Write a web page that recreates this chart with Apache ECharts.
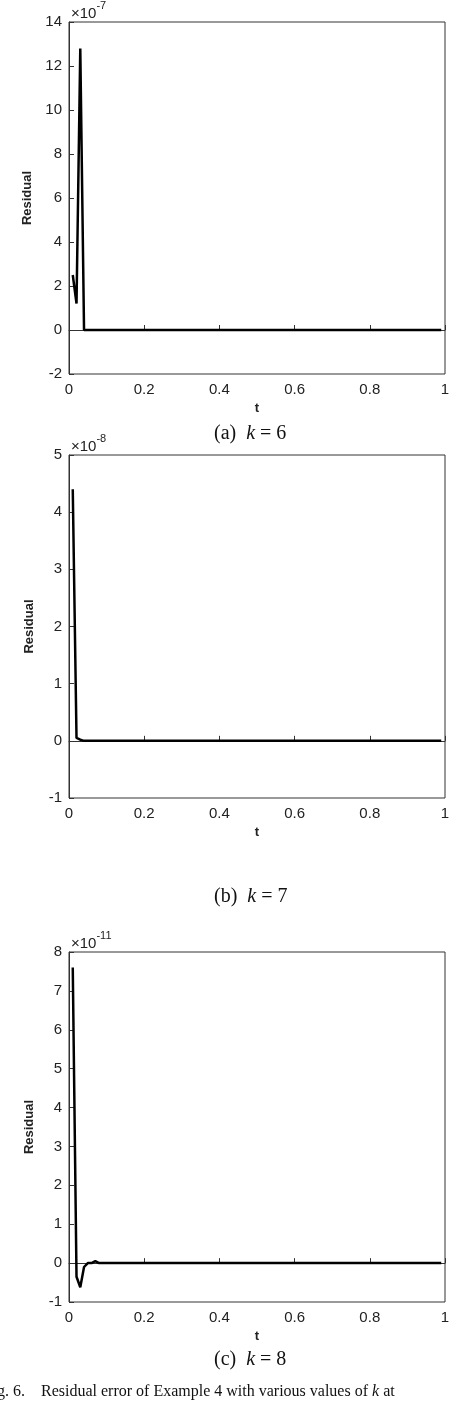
<!DOCTYPE html>
<html lang="en">
<head>
<meta charset="UTF-8">
<title>Residual</title>
<script src="https://cdn.jsdelivr.net/npm/echarts/dist/echarts.min.js"></script>
<style>
  body { margin: 0; background: #fff; }
  #chart { width: 474px; height: 1404px; }
</style>
</head>
<body>
<div id="chart"></div>
<script>
// residual values, in units of the exponent shown above each plot
var tA = [0.01, 0.02, 0.03, 0.04, 0.99];
var rA = [2.5, 1.2, 12.8, 0, 0];          // x1e-7
var tB = [0.01, 0.02, 0.03, 0.04, 0.99];
var rB = [4.4, 0.05, 0.02, 0, 0];         // x1e-8
var tC = [0.01, 0.02, 0.03, 0.04, 0.05, 0.06, 0.07, 0.08, 0.99];
var rC = [7.6, -0.35, -0.62, -0.1, 0, 0, 0.05, 0, 0]; // x1e-11
var exps = ['-7', '-8', '-11'];
var captions = ['(a)', '(b)', '(c)'];
var kVals = ['6', '7', '8'];

var chart = echarts.init(document.getElementById('chart'));
var font = 'Liberation Sans, Arial, sans-serif';
var grids = [
  { left: 69, width: 376, top: 22, height: 352 },
  { left: 69, width: 376, top: 455, height: 343 },
  { left: 69, width: 376, top: 952, height: 350 }
];
var yRanges = [[-2, 14, 2], [-1, 5, 1], [-1, 8, 1]];
var sets = [[tA, rA], [tB, rB], [tC, rC]];

function xAx(i) {
  return {
    type: 'value', gridIndex: i, min: 0, max: 1, interval: 0.2,
    name: 't', nameLocation: 'middle', nameGap: 28,
    nameTextStyle: { fontFamily: font, fontSize: 13, fontWeight: 'bold', color: '#222' },
    axisLine: { lineStyle: { color: '#333' } },
    axisTick: { inside: true, length: 5, lineStyle: { color: '#333' } },
    axisLabel: { fontFamily: font, fontSize: 15, color: '#222', margin: 8,
      formatter: function (v) { return v === 1 ? '1' : String(+v.toFixed(1)); } },
    splitLine: { show: false }
  };
}
function yAx(i) {
  return {
    type: 'value', gridIndex: i, min: yRanges[i][0], max: yRanges[i][1], interval: yRanges[i][2],
    name: 'Residual', nameLocation: 'middle', nameGap: 33, nameRotate: 90,
    nameTextStyle: { fontFamily: font, fontSize: 13, fontWeight: 'bold', color: '#222' },
    axisLine: { lineStyle: { color: '#333' } },
    axisTick: { inside: true, length: 5, lineStyle: { color: '#333' } },
    axisLabel: { fontFamily: font, fontSize: 15, color: '#222', margin: 7 },
    splitLine: { show: false }
  };
}

var graphics = [];
grids.forEach(function (g, i) {
  graphics.push({
    type: 'rect', shape: { x: g.left, y: g.top, width: g.width, height: g.height },
    style: { fill: 'none', stroke: '#333', lineWidth: 1 }, z: 0
  });
  graphics.push({
    type: 'text', left: g.left + 2, top: g.top - 22,
    style: { text: '{a|×10}{b|' + exps[i] + '}', rich: {
      a: { fontFamily: font, fontSize: 15, fill: '#222', padding: [6, 0, 0, 0] },
      b: { fontFamily: font, fontSize: 11, fill: '#222', verticalAlign: 'top' } } }
  });
});
var capY = [424, 887, 1350];
capY.forEach(function (y, i) {
  graphics.push({
    type: 'text', left: 214, top: y,
    style: { text: '{r|' + captions[i] + '  }{k|k}{r| = ' + kVals[i] + '}', rich: {
      r: { fontFamily: 'Liberation Serif, serif', fontSize: 20, fill: '#111' },
      k: { fontFamily: 'Liberation Serif, serif', fontStyle: 'italic', fontSize: 20, fill: '#111' } } }
  });
});
graphics.push({
  type: 'text', left: -3, top: 1384,
  style: { text: '{r|g. 6.    Residual error of Example 4 with various values of }{k|k}{r| at}', rich: {
    r: { fontFamily: 'Liberation Serif, serif', fontSize: 16, fill: '#111' },
    k: { fontFamily: 'Liberation Serif, serif', fontStyle: 'italic', fontSize: 16, fill: '#111' } } }
});

chart.setOption({
  animation: false,
  backgroundColor: '#fff',
  grid: grids,
  xAxis: [xAx(0), xAx(1), xAx(2)],
  yAxis: [yAx(0), yAx(1), yAx(2)],
  graphic: graphics,
  series: sets.map(function (s, i) {
    return {
      type: 'line', xAxisIndex: i, yAxisIndex: i, showSymbol: false,
      data: s[0].map(function (t, j) { return [t, s[1][j]]; }),
      lineStyle: { color: '#000', width: 2.5 }
    };
  })
});
</script>
</body>
</html>
